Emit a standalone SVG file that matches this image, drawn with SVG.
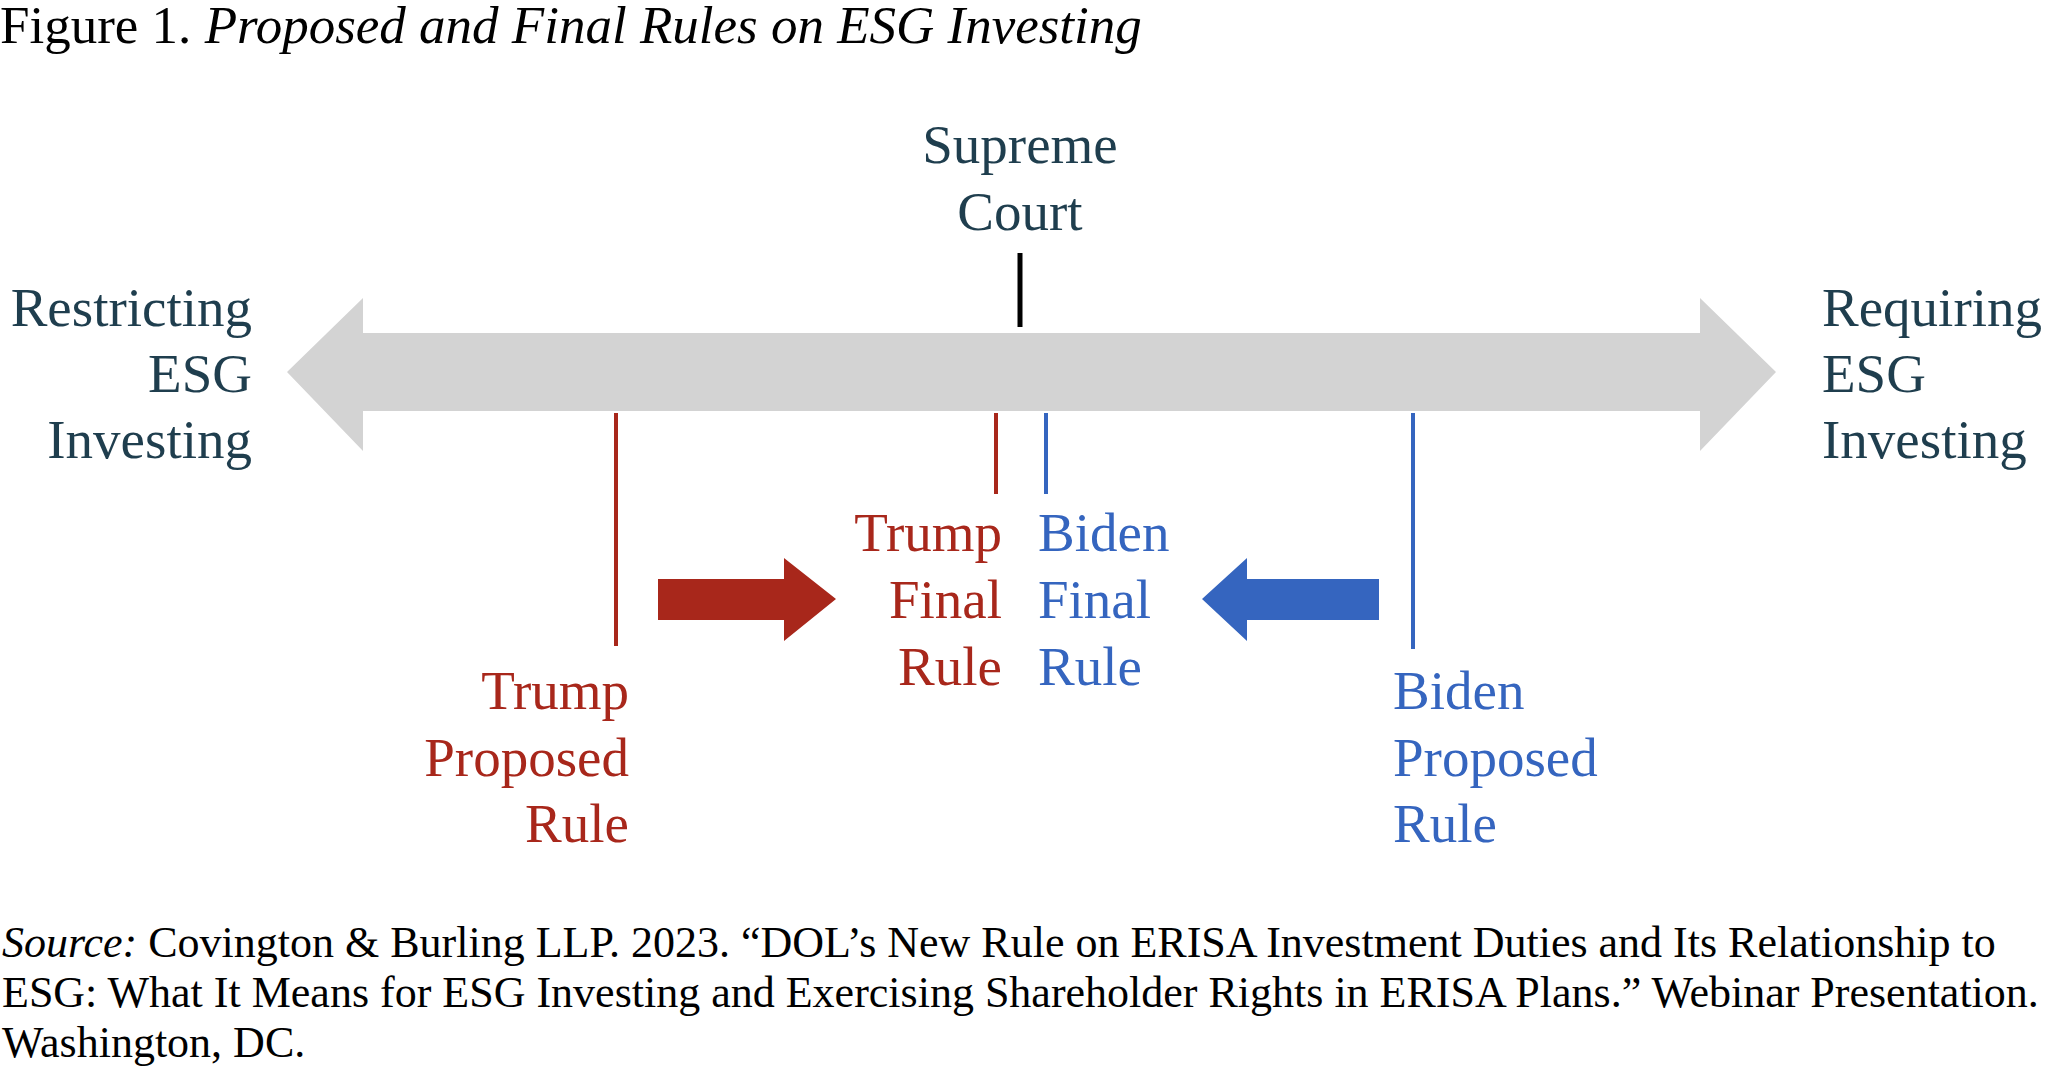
<svg xmlns="http://www.w3.org/2000/svg" width="2048" height="1072" viewBox="0 0 2048 1072">
<style>
.t{font-family:"Liberation Serif","Times New Roman",serif;}
.lab{font-size:55px;}
.teal{fill:#1F3E4E;}
.red{fill:#A8271B;}
.blue{fill:#3565BF;}
.src{font-size:44px;fill:#000;}
</style>
<rect width="2048" height="1072" fill="#fff"/>
<g id="title">
<text class="t" x="0" y="43" font-size="53" fill="#000">Figure 1. <tspan font-style="italic">Proposed and Final Rules on ESG Investing</tspan></text>
</g>
<g id="axis">
<polygon fill="#D3D3D3" points="287,372 363,298 363,333 1700,333 1700,298 1776,372 1700,451 1700,411 363,411 363,451"/>
</g>
<g id="connectors">
<line x1="1020" y1="253" x2="1020" y2="327" stroke="#000" stroke-width="5"/>
<line x1="616" y1="413" x2="616" y2="646" stroke="#A8271B" stroke-width="4"/>
<line x1="996" y1="413" x2="996" y2="494" stroke="#A8271B" stroke-width="4"/>
<line x1="1046" y1="413" x2="1046" y2="494" stroke="#3565BF" stroke-width="4"/>
<line x1="1413" y1="413" x2="1413" y2="649" stroke="#3565BF" stroke-width="4"/>
<polygon fill="#A8271B" points="658,579 784,579 784,558 836,599 784,641 784,620 658,620"/>
<polygon fill="#3565BF" points="1379,579 1247,579 1247,558 1202,599 1247,641 1247,620 1379,620"/>
</g>
<g id="restricting">
<text class="t lab teal" text-anchor="end"><tspan x="252" y="326">Restricting</tspan><tspan x="252" y="392">ESG</tspan><tspan x="252" y="458">Investing</tspan></text>
</g>
<g id="requiring">
<text class="t lab teal"><tspan x="1822" y="326">Requiring</tspan><tspan x="1822" y="392">ESG</tspan><tspan x="1822" y="458">Investing</tspan></text>
</g>
<g id="supreme-court">
<text class="t lab teal" text-anchor="middle"><tspan x="1020" y="163">Supreme</tspan><tspan x="1020" y="230">Court</tspan></text>
</g>
<g id="trump-proposed">
<text class="t lab red" text-anchor="end"><tspan x="629" y="709">Trump</tspan><tspan x="629" y="776">Proposed</tspan><tspan x="629" y="842">Rule</tspan></text>
</g>
<g id="trump-final">
<text class="t lab red" text-anchor="end"><tspan x="1002" y="551">Trump</tspan><tspan x="1002" y="618">Final</tspan><tspan x="1002" y="685">Rule</tspan></text>
</g>
<g id="biden-final">
<text class="t lab blue"><tspan x="1038" y="551">Biden</tspan><tspan x="1038" y="618">Final</tspan><tspan x="1038" y="685">Rule</tspan></text>
</g>
<g id="biden-proposed">
<text class="t lab blue"><tspan x="1393" y="709">Biden</tspan><tspan x="1393" y="776">Proposed</tspan><tspan x="1393" y="842">Rule</tspan></text>
</g>
<g id="source">
<text class="t src"><tspan x="2" y="957"><tspan font-style="italic">Source:</tspan> Covington &amp; Burling LLP. 2023. “DOL’s New Rule on ERISA Investment Duties and Its Relationship to</tspan><tspan x="2" y="1007">ESG: What It Means for ESG Investing and Exercising Shareholder Rights in ERISA Plans.” Webinar Presentation.</tspan><tspan x="2" y="1057">Washington, DC.</tspan></text>
</g>
</svg>
